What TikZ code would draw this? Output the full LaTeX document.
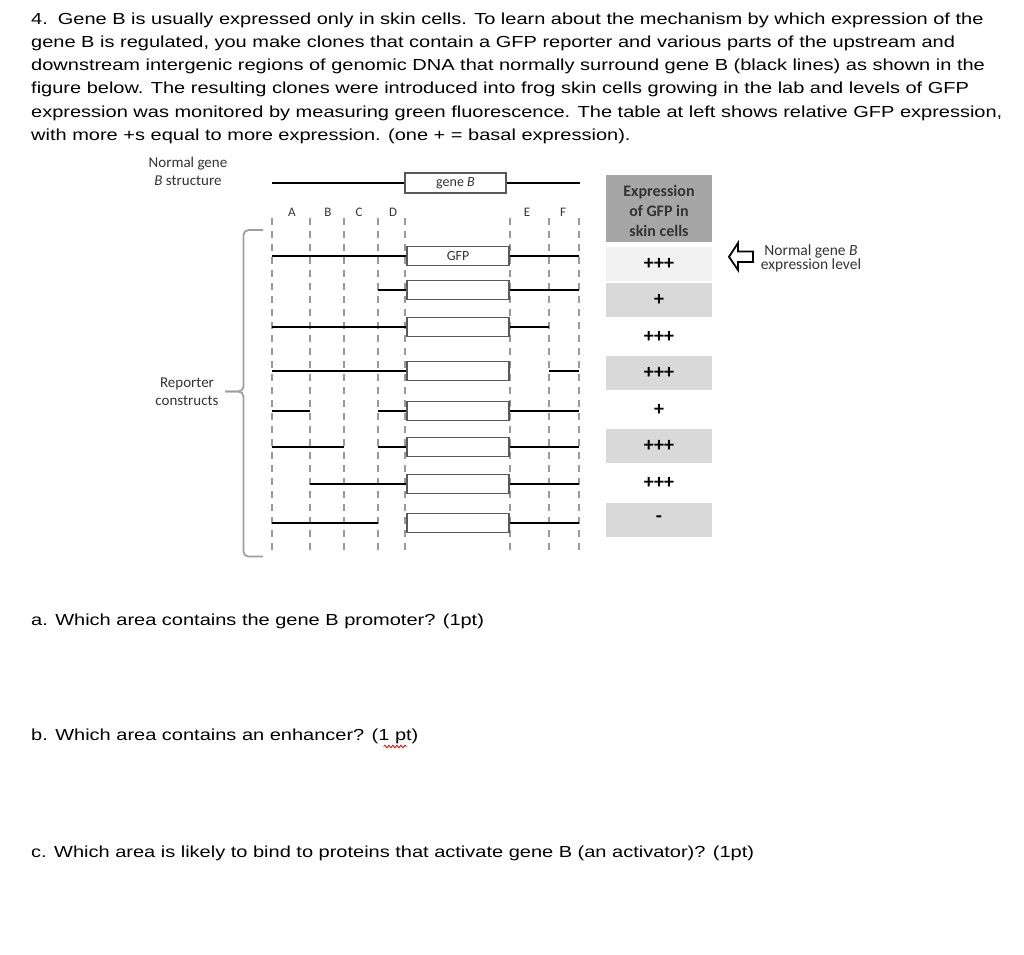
\documentclass[tikz,border=0pt]{standalone}
\usepackage{fontspec}
\usepackage{graphicx}
\setmainfont{Liberation Sans}
\newfontfamily\cali{Carlito}
\usetikzlibrary{decorations.pathmorphing,calc}
\definecolor{hdr}{HTML}{A6A6A6}
\definecolor{lgt}{HTML}{F2F2F2}
\definecolor{mid}{HTML}{D9D9D9}
\definecolor{dtext}{HTML}{333333}
\newcommand\hstr[1]{\scalebox{1.25}[1]{#1}}
\begin{document}
\begin{tikzpicture}[x=1pt,y=-1pt,
  qtext/.style={anchor=base west, inner sep=0, font=\fontsize{16}{19}\selectfont},
  lbl/.style={anchor=base, inner sep=0, text=dtext, font=\cali\fontsize{15}{16}\selectfont},
  small/.style={anchor=base, inner sep=0, text=dtext, font=\cali\fontsize{13}{14}\selectfont},
  vguide/.style={draw=gray!80, line width=1.4, dash pattern=on 7pt off 6pt},
  dna/.style={draw=black, line width=2.2},
  gfpbox/.style={draw=black!65, line width=1.3, minimum width=102, minimum height=19, inner sep=0, fill=white, text=dtext, font=\cali\fontsize{14}{15}\selectfont},
  cell/.style={minimum width=106, minimum height=34, inner sep=0, font=\cali\bfseries\fontsize{20}{20}\selectfont},
  hdrtext/.style={anchor=base, inner sep=0, text=dtext, font=\cali\bfseries\fontsize{16}{17}\selectfont},
  brace/.style={draw=gray!75, line width=1.8, rounded corners=5pt}
]
\useasboundingbox (0,0) rectangle (1024,954);
\fill[white] (0,0) rectangle (1024,954);

% question text
\node[qtext] (l1) at (31,24) {\hstr{4.\hspace{0.5em}Gene B is usually expressed only in skin cells. To learn about the mechanism by which expression of the}};
\node[qtext] (l2) at (31,47.3) {\hstr{gene B is regulated, you make clones that contain a GFP reporter and various parts of the upstream and}};
\node[qtext] (l3) at (31,70.6) {\hstr{downstream intergenic regions of genomic DNA that normally surround gene B (black lines) as shown in the}};
\node[qtext] (l4) at (31,93.9) {\hstr{figure below. The resulting clones were introduced into frog skin cells growing in the lab and levels of GFP}};
\node[qtext] (l5) at (31,117.2) {\hstr{expression was monitored by measuring green fluorescence. The table at left shows relative GFP expression,}};
\node[qtext] (l6) at (31,140.5) {\hstr{with more +s equal to more expression. (one + = basal expression).}};

\node[qtext] (qa) at (31,625) {\hstr{a. Which area contains the gene B promoter? (1pt)}};
\node[qtext] (qb) at (31,740) {\hstr{b. Which area contains an enhancer? (1 pt)}};
\node[qtext] (qc) at (31,857) {\hstr{c. Which area is likely to bind to proteins that activate gene B (an activator)? (1pt)}};
\draw[red!85!black, line width=0.8, decorate, decoration={snake, amplitude=1.3pt, segment length=4pt}] ($(qb.base east)+(-35,6.5)$) -- ($(qb.base east)+(-12,6.5)$);

% left labels
\node[lbl] (ng1) at (188,167) {Normal gene};
\node[lbl] (ng2) at (188,185) {\itshape B\upshape\ structure};
\node[lbl] (rc1) at (187,387) {Reporter};
\node[lbl] (rc2) at (187,405) {constructs};

% brace
\draw[brace] (263,230) -| (243.5,391.5) -- (225,391.5);
\draw[brace] (263,556.5) -| (243.5,391.5) -- (225,391.5);

% normal gene B structure
\node[gfpbox, minimum width=101, minimum height=20] (gb) at (455.5,183) {gene \itshape B};
\coordinate (gs) at (272,183);
\coordinate (ge) at (580,183);
\draw[dna] (gs) -- (gb.west);
\draw[dna] (gb.east) -- (ge);

% region labels
\foreach \n/\x in {A/292,B/328,C/359,D/393,E/527,F/563}
  \node[small] (lab\n) at (\x,216) {\n};

% dashed guides
\foreach \x in {272,310,344,378,405,510,549,579}
  \draw[vguide] (\x,218) -- (\x,553);

% reporter boxes
\foreach \i/\y in {1/256,2/290,3/327,4/371,5/411,6/447,7/484,8/523}
  \node[gfpbox] (g\i) at (458,\y) {};
\node[text=dtext, font=\cali\fontsize{14}{15}\selectfont] at (g1) {GFP};

% row 1
\draw[dna] (272,256) -- (g1.west);  \draw[dna] (g1.east) -- (579,256);
% row 2
\draw[dna] (378,290) -- (g2.west);  \draw[dna] (g2.east) -- (579,290);
% row 3
\draw[dna] (272,327) -- (g3.west);  \draw[dna] (g3.east) -- (549,327);
% row 4
\draw[dna] (272,371) -- (g4.west);  \draw[dna] (549,371) -- (579,371);
% row 5
\draw[dna] (272,411) -- (310,411);  \draw[dna] (378,411) -- (g5.west);  \draw[dna] (g5.east) -- (579,411);
% row 6
\draw[dna] (272,447) -- (344,447);  \draw[dna] (378,447) -- (g6.west);  \draw[dna] (g6.east) -- (579,447);
% row 7
\draw[dna] (310,484) -- (g7.west);  \draw[dna] (g7.east) -- (579,484);
% row 8
\draw[dna] (272,523) -- (378,523);  \draw[dna] (g8.east) -- (579,523);

% table
\node[cell, fill=hdr, minimum height=67] (th) at (659,208.5) {};
\node[hdrtext] (th1) at (659,196) {Expression};
\node[hdrtext] (th2) at (659,216) {of GFP in};
\node[hdrtext] (th3) at (659,236) {skin cells};
\node[cell, fill=lgt] (t1) at (659,263.5) {+++};
\node[cell, fill=mid] (t2) at (659,299.5) {+};
\node[cell] (t3) at (659,336.5) {+++};
\node[cell, fill=mid] (t4) at (659,372.5) {+++};
\node[cell] (t5) at (659,409.5) {+};
\node[cell, fill=mid] (t6) at (659,445.5) {+++};
\node[cell] (t7) at (659,483) {+++};
\node[cell, fill=mid] (t8) at (659,519.5) {-};

% arrow and label
\draw[line width=1.8, line join=miter] (753,251.5) -- (738,251.5) -- (738,243) -- (729,256.8) -- (738,270) -- (738,262) -- (753,262) -- cycle;
\node[anchor=base, inner sep=0, text=dtext, font=\cali\fontsize{15.5}{15}\selectfont] (ne1) at (811,255) {Normal gene \itshape B};
\node[anchor=base, inner sep=0, text=dtext, font=\cali\fontsize{15.5}{15}\selectfont] (ne2) at (811,269) {expression level};
\end{tikzpicture}
\end{document}
